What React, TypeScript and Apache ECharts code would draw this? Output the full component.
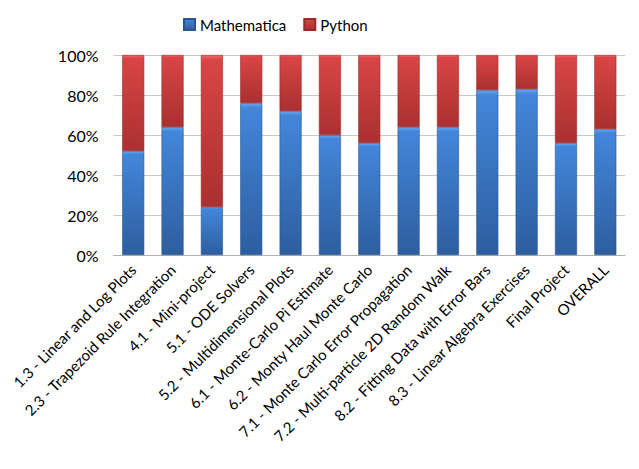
import React, { useEffect, useRef } from "react";
import * as echarts from "echarts";

const categories = [
  "1.3 - Linear and Log Plots",
  "2.3 - Trapezoid Rule Integration",
  "4.1 - Mini-project",
  "5.1 - ODE Solvers",
  "5.2 - Multidimensional Plots",
  "6.1 - Monte-Carlo Pi Estimate",
  "6.2 - Monty Haul Monte Carlo",
  "7.1 - Monte Carlo Error Propagation",
  "7.2 - Multi-particle 2D Random Walk",
  "8.2 - Fitting Data with Error Bars",
  "8.3 - Linear Algebra Exercises",
  "Final Project",
  "OVERALL",
];
const mathematica = [52, 64, 24, 76, 72, 60, 56, 64, 64, 82.5, 83, 56, 63];
const python = [48, 36, 76, 24, 28, 40, 44, 36, 36, 17.5, 17, 44, 37];
const yTicks = [0, 20, 40, 60, 80, 100];

const FONT = "Lato, 'Open Sans', sans-serif";

export default function App() {
  const ref = useRef<HTMLDivElement>(null);
  useEffect(() => {
    if (!ref.current) return;
    const chart = echarts.init(ref.current, null, { renderer: "svg" });
    const blue = new echarts.graphic.LinearGradient(0, 0, 0, 1, [
      { offset: 0, color: "#6aa6ec" },
      { offset: 0.03, color: "#4386da" },
      { offset: 1, color: "#2d5e9f" },
    ]);
    const red = new echarts.graphic.LinearGradient(0, 0, 0, 1, [
      { offset: 0, color: "#ee6a6a" },
      { offset: 0.03, color: "#d94545" },
      { offset: 1, color: "#aa3030" },
    ]);
    chart.setOption({
      animation: false,
      legend: {
        top: 4,
        left: 170,
        itemWidth: 11,
        itemHeight: 11,
        itemGap: 17,
        icon: "rect",
        textStyle: { fontFamily: FONT, fontSize: 15, color: "#000" },
        data: ["Mathematica", "Python"],
      },
      grid: { left: 105, right: 6, top: 47, bottom: 206 },
      xAxis: {
        type: "category",
        data: categories,
        axisTick: { show: false },
        axisLine: { lineStyle: { color: "#b0b0b0" } },
        axisLabel: {
          rotate: 45,
          interval: 0,
          margin: 12,
          fontFamily: FONT,
          fontSize: 15,
          color: "#000",
        },
      },
      yAxis: {
        type: "value",
        min: 0,
        max: 100,
        interval: 20,
        axisLine: { show: false },
        axisTick: { show: false },
        splitLine: { lineStyle: { color: "#c8c8c8" } },
        axisLabel: {
          margin: 15,
          fontFamily: FONT,
          fontSize: 16,
          color: "#000",
          formatter: (v: number) => (yTicks.includes(v) ? v + "%" : ""),
        },
      },
      series: [
        {
          name: "Mathematica",
          type: "bar",
          stack: "total",
          barWidth: "56%",
          data: mathematica,
          itemStyle: { color: blue, borderColor: "#2a5590", borderWidth: 0.6 },
        },
        {
          name: "Python",
          type: "bar",
          stack: "total",
          barWidth: "56%",
          data: python,
          itemStyle: { color: red, borderColor: "#9a2a2a", borderWidth: 0.6 },
        },
      ],
    });
    return () => chart.dispose();
  }, []);
  return <div ref={ref} style={{ width: 623, height: 453 }} />;
}
